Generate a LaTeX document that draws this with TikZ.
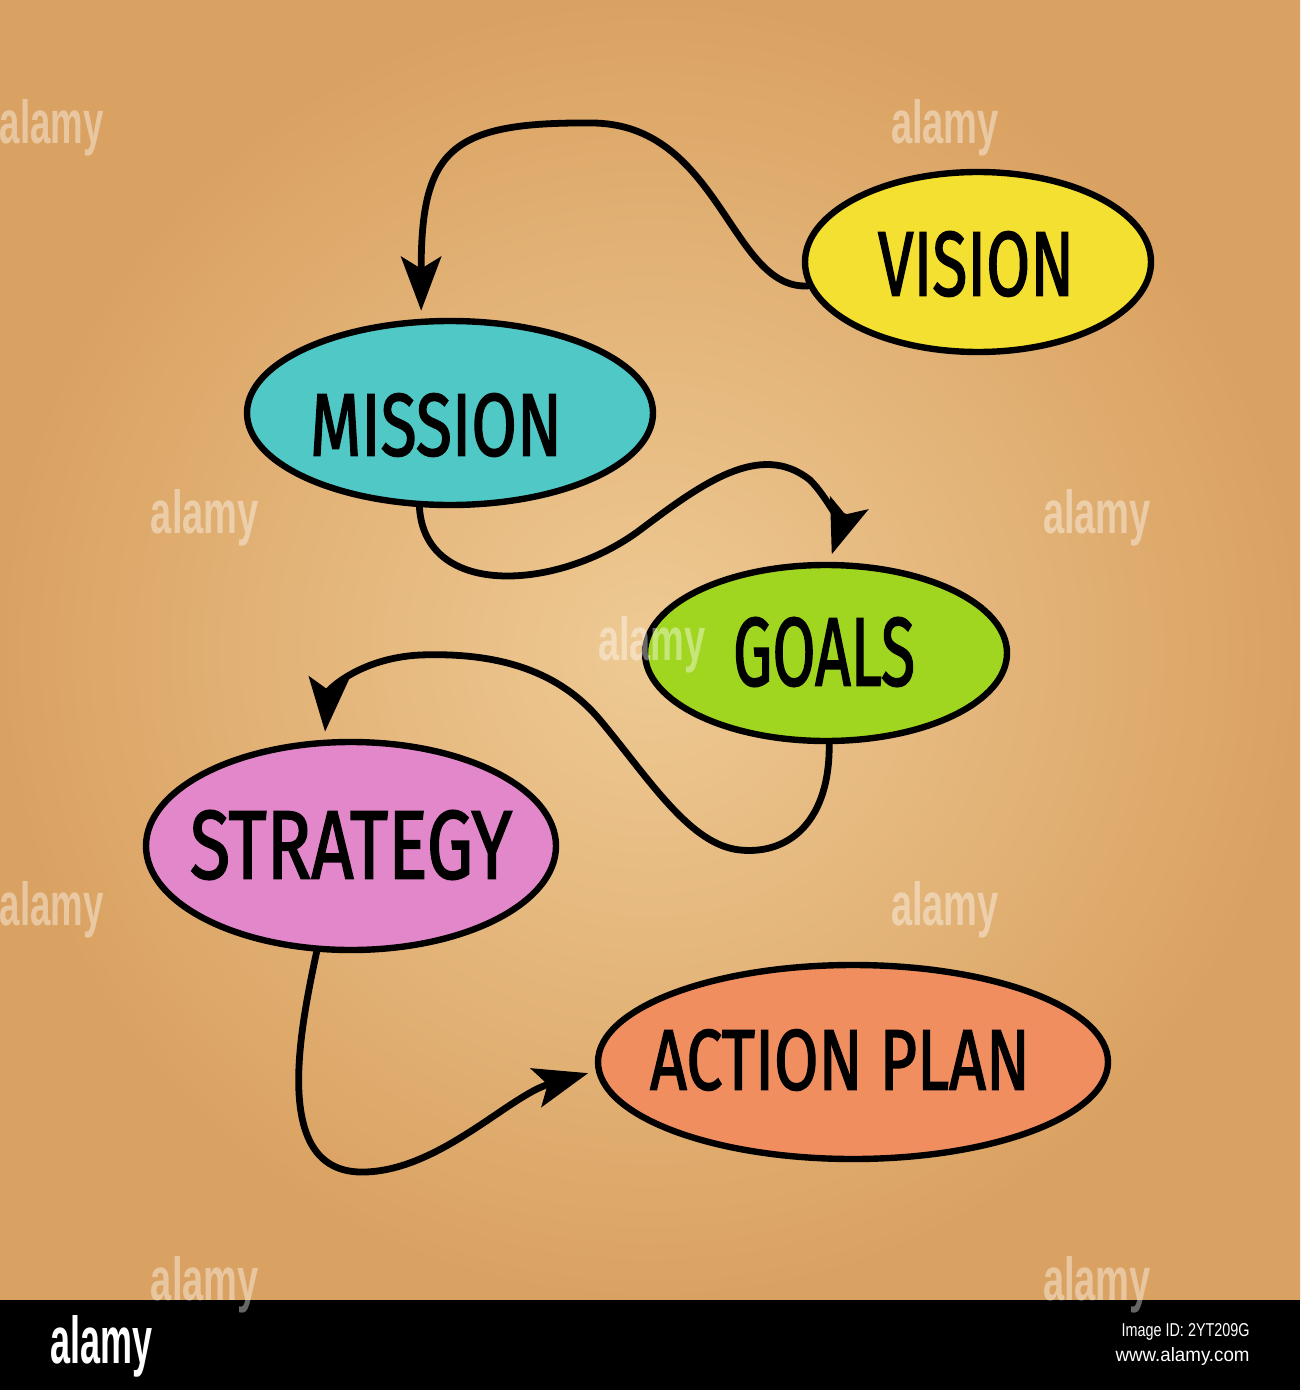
\documentclass[tikz,border=0pt]{standalone}
\usepackage{graphicx}
\usepackage{fontspec}
\setmainfont{Fira Sans}
\newfontfamily\handfont{Fira Sans}[FakeBold=2]
\newfontfamily\wmfont{Liberation Sans}
\usetikzlibrary{shapes.geometric,arrows.meta}
\definecolor{paperlight}{RGB}{238,202,148}
\definecolor{paperdark}{RGB}{218,162,98}
\definecolor{visionfill}{RGB}{243,224,48}
\definecolor{missionfill}{RGB}{80,200,198}
\definecolor{goalsfill}{RGB}{160,214,32}
\definecolor{strategyfill}{RGB}{226,136,202}
\definecolor{actionfill}{RGB}{240,142,96}
\tikzset{
  bubble/.style={ellipse, draw=black, line width=3.2pt, inner sep=0pt},
  lbl/.style={inner sep=0pt, text=black, font=\handfont},
  flow/.style={line width=3.4pt, line cap=round, shorten >=4pt,
    -{Stealth[length=27pt,width=20pt,inset=6pt]}},
  wmark/.style={inner sep=0pt, text=white, opacity=0.4, font=\wmfont\bfseries},
}
\begin{document}
\begin{tikzpicture}[x=0.5pt,y=-0.5pt]
\useasboundingbox (0,0) rectangle (1300,1390);
% paper background
\shade[inner color=paperlight, outer color=paperdark] (0,0) rectangle (1300,1300);
% bottom bar
\fill[black] (0,1300) rectangle (1300,1390);
\node[inner sep=0pt, text=white, anchor=west, font=\wmfont\bfseries] (logo) at (50,1346) {\resizebox{51pt}{24pt}{alamy}};
\node[inner sep=0pt, text=white, anchor=east, font=\wmfont] (imgid) at (1250,1332) {\resizebox{64pt}{6.5pt}{Image ID: 2YT209G}};
\node[inner sep=0pt, text=white, anchor=east, font=\wmfont] (www) at (1250,1356) {\resizebox{67pt}{7pt}{www.alamy.com}};
% bubbles
\node[bubble, fill=visionfill, minimum width=173pt, minimum height=90pt] (vision) at (978,262) {};
\node[bubble, fill=missionfill, minimum width=203pt, minimum height=92pt] (mission) at (450,413) {};
\node[bubble, fill=goalsfill, minimum width=181pt, minimum height=88pt] (goals) at (826,653) {};
\node[bubble, fill=strategyfill, minimum width=205pt, minimum height=104pt] (strategy) at (351,846) {};
\node[bubble, fill=actionfill, minimum width=255pt, minimum height=97pt] (action) at (853,1062) {};
% labels
\node[lbl] (vision-t) at (976,264) {\resizebox{98pt}{32pt}{VISION}};
\node[lbl] (mission-t) at (436,425) {\resizebox{126pt}{31pt}{MISSION}};
\node[lbl] (goals-t) at (824,652) {\resizebox{91pt}{34pt}{GOALS}};
\node[lbl] (strategy-t) at (351,845) {\resizebox{161pt}{34pt}{STRATEGY}};
\node[lbl] (action-t) at (840,1060) {\resizebox{190pt}{30pt}{ACTION PLAN}};
% connectors
\draw[flow] (vision.188) .. controls (730,290) and (720,122) .. (590,123)
  .. controls (450,122) and (421,150) .. (mission.107);
\draw[flow] (mission.252) .. controls (425,600) and (560,590) .. (640,530)
  .. controls (700,485) and (760,440) .. (810,480)
  .. controls (830,500) and (840,530) .. (goals.88);
\draw[flow] (goals.272) .. controls (830,820) and (790,855) .. (740,850)
  .. controls (690,845) and (650,780) .. (600,720)
  .. controls (560,672) and (500,652) .. (420,655)
  .. controls (360,658) and (328,690) .. (strategy.104);
\draw[flow] (strategy.252) .. controls (300,1030) and (270,1175) .. (365,1172)
  .. controls (440,1170) and (510,1095) .. (action.182);
% watermarks (on top)
\node[wmark] (w1) at (52,128) {\resizebox{52pt}{22pt}{alamy}};
\node[wmark] (w2) at (945,128) {\resizebox{54pt}{22pt}{alamy}};
\node[wmark] (w3) at (205,518) {\resizebox{54pt}{22pt}{alamy}};
\node[wmark] (w4) at (1097,518) {\resizebox{54pt}{22pt}{alamy}};
\node[wmark] (w5) at (652,645) {\resizebox{54pt}{22pt}{alamy}};
\node[wmark] (w6) at (52,910) {\resizebox{52pt}{22pt}{alamy}};
\node[wmark] (w7) at (945,910) {\resizebox{54pt}{22pt}{alamy}};
\node[wmark] (w8) at (205,1285) {\resizebox{54pt}{22pt}{alamy}};
\node[wmark] (w9) at (1097,1285) {\resizebox{54pt}{22pt}{alamy}};
\end{tikzpicture}
\end{document}
